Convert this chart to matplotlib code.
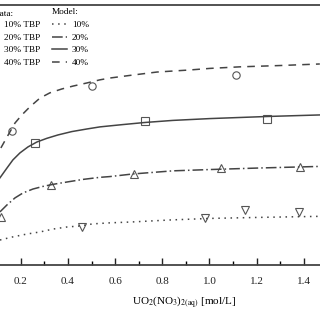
import matplotlib
matplotlib.use('Agg')
import matplotlib.pyplot as plt
from matplotlib.lines import Line2D

plt.rcParams['font.family'] = 'Liberation Serif'
plt.rcParams['mathtext.fontset'] = 'stix'

# experimental points
x_10 = [0.459, 0.980, 1.150, 1.378]
y_10 = [1.46, 1.82, 2.12, 2.05]
x_20 = [0.115, 0.327, 0.679, 1.048, 1.383]
y_20 = [1.85, 3.08, 3.50, 3.72, 3.77]
x_30 = [0.258, 0.726, 1.245]
y_30 = [4.69, 5.54, 5.60]
x_40 = [0.162, 0.500, 1.112]
y_40 = [5.15, 6.88, 7.31]

# model curves
mx_10 = [0.111, 0.166, 0.226, 0.281, 0.336, 0.395, 0.450, 0.505, 0.578, 0.662, 0.832, 1.002, 1.214, 1.468]
my_10 = [0.96, 1.08, 1.19, 1.27, 1.38, 1.46, 1.50, 1.58, 1.62, 1.65, 1.73, 1.79, 1.83, 1.87]
mx_20 = [0.111, 0.141, 0.175, 0.209, 0.251, 0.293, 0.336, 0.395, 0.463, 0.535, 0.578, 0.675, 0.845, 1.002, 1.214, 1.468]
my_20 = [2.04, 2.31, 2.58, 2.77, 2.92, 3.02, 3.10, 3.19, 3.29, 3.37, 3.40, 3.50, 3.62, 3.67, 3.73, 3.79]
mx_30 = [0.111, 0.141, 0.166, 0.196, 0.230, 0.268, 0.310, 0.357, 0.416, 0.480, 0.535, 0.578, 0.633, 0.726, 0.845, 1.002, 1.243, 1.468]
my_30 = [3.35, 3.73, 4.04, 4.31, 4.54, 4.73, 4.87, 5.00, 5.13, 5.23, 5.31, 5.35, 5.40, 5.48, 5.56, 5.63, 5.71, 5.77]
mx_40 = [0.115, 0.141, 0.175, 0.204, 0.238, 0.281, 0.323, 0.374, 0.421, 0.480, 0.535, 0.578, 0.662, 0.777, 0.917, 1.002, 1.129, 1.298, 1.468]
my_40 = [4.50, 4.92, 5.46, 5.77, 6.08, 6.42, 6.62, 6.77, 6.88, 7.00, 7.12, 7.19, 7.29, 7.42, 7.50, 7.56, 7.62, 7.67, 7.73]

data_labels = ['10% TBP', '20% TBP', '30% TBP', '40% TBP']
model_labels = ['10%', '20%', '30%', '40%']
markers = ['v', '^', 's', 'o']
styles = [(0, (1, 3)), (0, (7, 2, 1, 2)), '-', (0, (5, 4))]

lc = '#444444'
fig = plt.figure(figsize=(3.2, 3.2), dpi=100)
ax = fig.add_axes([-0.082, 0.172, 1.105, 0.8125])

for xs, ys, m in zip([x_10, x_20, x_30, x_40], [y_10, y_20, y_30, y_40], markers):
    ax.plot(xs, ys, linestyle='none', marker=m, markersize=5.3, markerfacecolor='white',
            markeredgecolor='#555555', markeredgewidth=0.8)
for xs, ys, ls in zip([mx_10, mx_20, mx_30, mx_40], [my_10, my_20, my_30, my_40], styles):
    ax.plot(xs, ys, linestyle=ls, color=lc, linewidth=1.1)

ax.set_xlim(0, 1.5)
ax.set_ylim(0, 10)
ax.set_xticks([0.2, 0.4, 0.6, 0.8, 1.0, 1.2, 1.4])
ax.set_xticklabels(['0.2', '0.4', '0.6', '0.8', '1.0', '1.2', '1.4'])
ax.set_xticks([0.1, 0.3, 0.5, 0.7, 0.9, 1.1, 1.3, 1.5], minor=True)
ax.tick_params(axis='x', which='major', direction='in', length=5, width=1, labelsize=8, pad=9, colors='#222222')
ax.tick_params(axis='x', which='minor', direction='in', length=3, width=1)
ax.set_yticks([])
for s in ax.spines.values():
    s.set_linewidth(1.3)
    s.set_color('#444444')
ax.set_xlabel(r'UO$_{\rm 2}$(NO$_{\rm 3}$)$_{\rm 2(aq)}$ [mol/L]', fontsize=8, labelpad=4)
ax.xaxis.set_label_coords(0.594, -0.112)

data_h = [Line2D([], [], linestyle='none', marker=m, markersize=5, markerfacecolor='white',
                 markeredgecolor='#555555') for m in markers]
leg1 = fig.legend(data_h, data_labels, title=' ', loc='upper left',
                  bbox_to_anchor=(-0.06, 1.0), frameon=False, fontsize=6.7,
                  title_fontsize=6.7, handlelength=1.0, handletextpad=0.6,
                  labelspacing=0.45, alignment='left')
fig.text(-0.02, 0.955, 'Data:', fontsize=6.7, va='center', ha='left')
model_h = [Line2D([], [], linestyle=ls, color=lc, linewidth=1.1) for ls in styles]
leg2 = fig.legend(model_h, model_labels, title='Model:', loc='upper left',
                  bbox_to_anchor=(0.135, 1.0), frameon=False, fontsize=6.7,
                  title_fontsize=6.7, handlelength=1.7, handletextpad=0.5,
                  labelspacing=0.45, alignment='left')

fig.savefig('out.png', dpi=100)
